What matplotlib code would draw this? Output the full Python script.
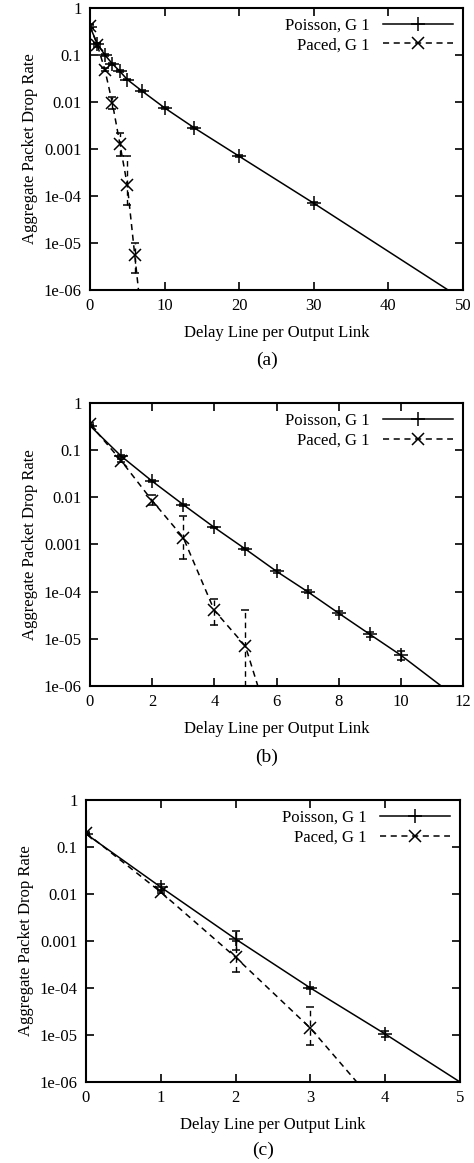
import matplotlib
matplotlib.use("Agg")
import matplotlib.pyplot as plt
import numpy as np
from matplotlib.ticker import FixedLocator, FixedFormatter
from matplotlib.lines import Line2D

plt.rcParams['font.family'] = ['Liberation Serif', 'DejaVu Serif']
plt.rcParams['font.size'] = 12

# Panel (a)
a_pois_x = [0, 1, 2, 3, 4, 5, 7, 10, 14, 20, 30]
a_pois_y = [0.4, 0.17, 0.1, 0.065, 0.045, 0.03, 0.017, 0.0075, 0.0028, 0.0007, 7e-5]
a_pois_lo = [0.37, 0.16, 0.095, 0.062, 0.043, 0.029, 0.0162, 0.0072, 0.0027, 0.00066, 6.5e-5]
a_pois_hi = [0.43, 0.18, 0.105, 0.068, 0.047, 0.031, 0.0178, 0.0078, 0.0029, 0.00074, 7.5e-5]
a_pois_tail = (48, 1e-6)
a_paced_x = [0, 1, 2, 3, 4, 5, 6]
a_paced_y = [0.42, 0.16, 0.048, 0.0095, 0.0013, 0.00017, 5.5e-6]
a_paced_lo = [0.38, 0.15, 0.045, 0.007, 0.0007, 6.5e-5, 2.3e-6]
a_paced_hi = [0.46, 0.18, 0.052, 0.013, 0.0022, 0.0007, 1e-5]
a_paced_tail = (6.5, 1e-6)
a_xticks = [0, 10, 20, 30, 40, 50]

# Panel (b)
b_pois_x = [0, 1, 2, 3, 4, 5, 6, 7, 8, 9, 10]
b_pois_y = [0.33, 0.075, 0.022, 0.007, 0.0023, 0.0008, 0.00027, 0.0001, 3.5e-5, 1.25e-5, 4.5e-6]
b_pois_lo = [0.31, 0.071, 0.021, 0.0066, 0.0022, 0.00076, 0.00025, 9.3e-5, 3.2e-5, 1.1e-5, 3.5e-6]
b_pois_hi = [0.35, 0.079, 0.023, 0.0074, 0.0024, 0.00084, 0.00029, 0.000107, 3.8e-5, 1.4e-5, 5.5e-6]
b_pois_tail = (11.3, 1e-6)
b_paced_x = [0, 1, 2, 3, 4, 5]
b_paced_y = [0.36, 0.06, 0.0085, 0.0014, 4e-5, 7e-6]
b_paced_lo = [0.34, 0.056, 0.007, 0.0005, 2e-5, 1e-6]
b_paced_hi = [0.38, 0.064, 0.011, 0.004, 7e-5, 4e-5]
b_paced_tail = (5.4, 1e-6)
b_xticks = [0, 2, 4, 6, 8, 10, 12]

# Panel (c)
c_pois_x = [0, 1, 2, 3, 4]
c_pois_y = [0.19, 0.014, 0.0011, 0.0001, 1.05e-5]
c_pois_lo = [0.18, 0.012, 0.00065, 9.3e-5, 9e-6]
c_pois_hi = [0.2, 0.016, 0.0016, 0.000107, 1.2e-5]
c_pois_tail = (5, 1e-6)
c_paced_x = [0, 1, 2, 3]
c_paced_y = [0.2, 0.011, 0.00045, 1.4e-5]
c_paced_lo = [0.19, 0.0105, 0.00022, 6e-6]
c_paced_hi = [0.21, 0.0115, 0.001, 4e-5]
c_paced_tail = (3.62, 1e-6)
c_xticks = [0, 1, 2, 3, 4, 5]

yticks = [1, 0.1, 0.01, 0.001, 1e-4, 1e-5, 1e-6]
ylabels = ['1', '0.1', '0.01', '0.001', '1e-04', '1e-05', '1e-06']

panels = [
    ([90/474, 1-290/1163, 373/474, 282/1163], a_pois_x, a_pois_y, a_pois_lo, a_pois_hi, a_pois_tail,
     a_paced_x, a_paced_y, a_paced_lo, a_paced_hi, a_paced_tail, a_xticks, '(a)', 1-360/1163),
    ([90/474, 1-686/1163, 373/474, 283/1163], b_pois_x, b_pois_y, b_pois_lo, b_pois_hi, b_pois_tail,
     b_paced_x, b_paced_y, b_paced_lo, b_paced_hi, b_paced_tail, b_xticks, '(b)', 1-757/1163),
    ([86/474, 1-1082/1163, 374/474, 282/1163], c_pois_x, c_pois_y, c_pois_lo, c_pois_hi, c_pois_tail,
     c_paced_x, c_paced_y, c_paced_lo, c_paced_hi, c_paced_tail, c_xticks, '(c)', 1-1150/1163),
]

fig = plt.figure(figsize=(4.74, 11.63), dpi=100)
for (rect, px, py, plo, phi, ptail, qx, qy, qlo, qhi, qtail, xt, cap, capy) in panels:
    ax = fig.add_axes(rect)
    ax.set_yscale('log')
    ax.plot(list(px) + [ptail[0]], list(py) + [ptail[1]], color='black', lw=1.1)
    ax.plot(list(qx) + [qtail[0]], list(qy) + [qtail[1]], color='black', lw=1.1, ls=(0, (4, 3)))
    pyarr = np.array(py); qyarr = np.array(qy)
    ax.errorbar(px, py, yerr=[pyarr - np.array(plo), np.array(phi) - pyarr], fmt='+',
                color='black', ms=10, mew=1.1, elinewidth=1.0, capsize=3)
    e2 = ax.errorbar(qx, qy, yerr=[qyarr - np.array(qlo), np.array(qhi) - qyarr], fmt='x',
                     color='black', ms=9, mew=1.1, elinewidth=1.0, capsize=3)
    for b in e2[2]:
        b.set_linestyle((0, (4, 3)))
    h1 = Line2D([], [], color='black', lw=1.1, marker='+', ms=10, mew=1.1)
    h2 = Line2D([], [], color='black', lw=1.1, ls=(0, (4, 3)), marker='x', ms=9, mew=1.1)
    ax.legend([h1, h2], ['Poisson, G 1', 'Paced, G 1'], loc='upper right', frameon=False,
              markerfirst=False, handlelength=4.2, fontsize=12, borderaxespad=0.2,
              labelspacing=0.2)
    ax.set_ylim(1e-6, 1)
    ax.set_xlim(xt[0], xt[-1])
    ax.set_xticks(xt)
    ax.yaxis.set_major_locator(FixedLocator(yticks))
    ax.yaxis.set_major_formatter(FixedFormatter(ylabels))
    ax.yaxis.set_minor_locator(FixedLocator([]))
    ax.tick_params(direction='in', top=True, right=True, length=6, width=1.2, labelsize=12, pad=6)
    for s in ax.spines.values():
        s.set_linewidth(1.5)
    ax.set_xlabel('Delay Line per Output Link', fontsize=12, labelpad=8)
    ax.set_ylabel('Aggregate Packet Drop Rate', fontsize=12, labelpad=4)
    fig.text(rect[0] + rect[2] / 2 - 0.02, capy, cap, ha='center', va='center', fontsize=14)

fig.savefig('out.png', dpi=100)
